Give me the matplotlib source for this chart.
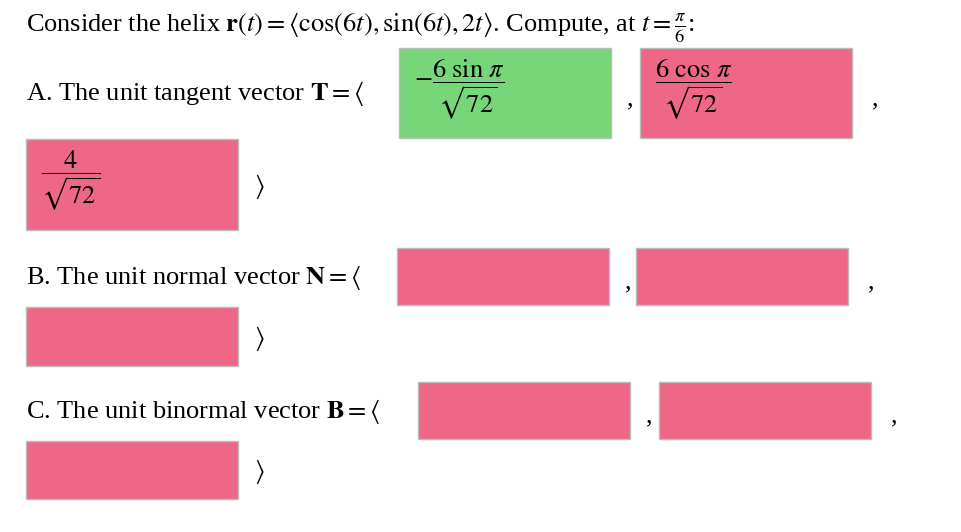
import matplotlib
matplotlib.use("Agg")
import matplotlib.pyplot as plt
from matplotlib.patches import Rectangle

plt.rcParams['font.family'] = ['Liberation Serif', 'DejaVu Serif']
plt.rcParams['mathtext.fontset'] = 'stix'

GREEN = '#77d677'
PINK = '#ee6787'

title = r"Consider the helix $\mathbf{r}(t)=\langle\cos(6t),\sin(6t),2t\rangle$. Compute, at $t=\frac{\pi}{6}$:"
prompts = [r"A. The unit tangent vector $\mathbf{T}=\langle$",
           r"B. The unit normal vector $\mathbf{N}=\langle$",
           r"C. The unit binormal vector $\mathbf{B}=\langle$"]
answers = [[r"$-\dfrac{6\ \sin\,\pi}{\sqrt{72}}$", r"$\dfrac{6\ \cos\,\pi}{\sqrt{72}}$", r"$\dfrac{4}{\sqrt{72}}$"],
           ["", "", ""],
           ["", "", ""]]
correct = [[True, False, False], [False, False, False], [False, False, False]]

# layout: prompt y, box x for first two boxes, box rows (top, height)
prompt_y = [93, 277, 411]
box_x = [[399, 640], [397, 636], [418, 659]]
rows = [[(48, 90), (139, 91)], [(248, 57), (307, 59)], [(382, 57), (441, 58)]]
box_w = 212

fig = plt.figure(figsize=(9.61, 5.32), dpi=100)
ax = fig.add_axes([0, 0, 1, 1])
ax.set_xlim(0, 961)
ax.set_ylim(532, 0)
ax.axis('off')

ax.text(26, 28, title, fontsize=19, va='center')
for i, p in enumerate(prompts):
    ax.text(26, prompt_y[i], p, fontsize=19, va='center')
    (t1, h1), (t2, h2) = rows[i]
    xs = [(box_x[i][0], t1, h1), (box_x[i][1], t1, h1), (26, t2, h2)]
    for j, (x, t, h) in enumerate(xs):
        col = GREEN if correct[i][j] else PINK
        ax.add_patch(Rectangle((x, t), box_w, h, facecolor=col, edgecolor='#bbbbbb', lw=1))
        if answers[i][j]:
            ax.text(x + 15, t + 42 if h > 80 else t + h / 2, answers[i][j], fontsize=19, va='center')
    ax.text(box_x[i][0] + box_w + 16, t1 + h1 / 2 + 6, ",", fontsize=19, va='center')
    ax.text(box_x[i][1] + box_w + 20, t1 + h1 / 2 + 6, ",", fontsize=19, va='center')
    ax.text(26 + box_w + 16, t2 + h2 / 2 + 2, r"$\rangle$", fontsize=19, va='center')

fig.savefig("out.png", dpi=100)
